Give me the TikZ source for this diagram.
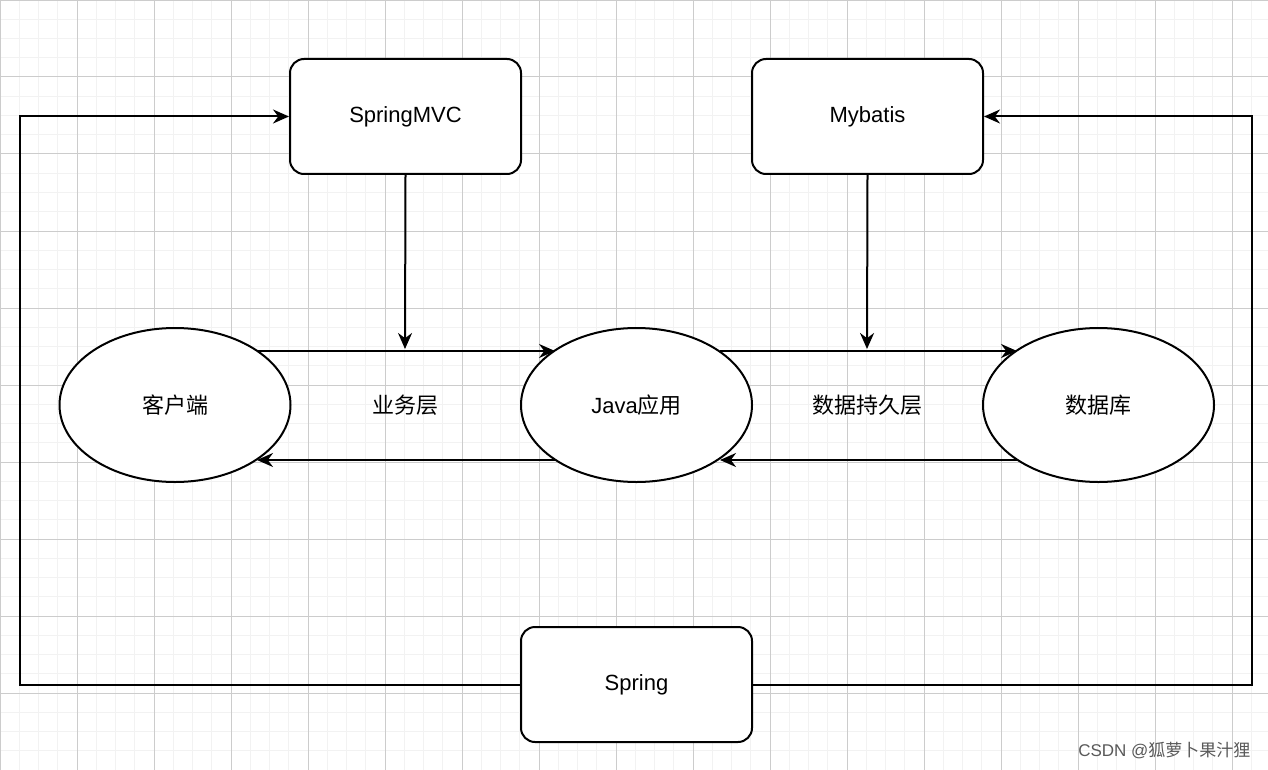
\documentclass[tikz,border=0pt]{standalone}
\usepackage{fontspec}
\setmainfont{Liberation Sans}
\newfontfamily\cjk{Noto Sans CJK SC}
\usetikzlibrary{shapes.geometric,arrows.meta}
\begin{document}
\begin{tikzpicture}[x=1pt,y=-1pt,
  box/.style={draw,line width=2pt,rounded corners=14pt,minimum width=231pt,minimum height=115pt,fill=white,font=\fontsize{22}{26}\selectfont},
  ell/.style={draw,line width=2pt,ellipse,minimum width=231pt,minimum height=154pt,fill=white,font=\fontsize{22}{26}\selectfont},
  arr/.style={line width=2pt,-{Stealth[length=16pt,width=14pt]}},
  lbl/.style={font=\fontsize{22}{26}\selectfont}]
\useasboundingbox (0,0) rectangle (1268,770);
\fill[white] (0,0) rectangle (1268,770);
\draw[black!5,line width=1pt,step=19.25pt] (0,0) grid (1268,770);
\draw[black!20,line width=1pt,step=77pt] (0,0) grid (1268,770);
\node[box] (mvc) at (405.5,116.5) {SpringMVC};
\node[box] (myb) at (867.5,116.5) {Mybatis};
\node[box] (spr) at (636.5,684.5) {Spring};
\node[ell] (cli) at (175,405) {\cjk 客户端};
\node[ell] (java) at (636.5,405) {Java\cjk 应用};
\node[ell] (db) at (1098.5,405) {\cjk 数据库};
\node[lbl] (l1) at (405,405) {\cjk 业务层};
\node[lbl] (l2) at (867,405) {\cjk 数据持久层};
\coordinate (m1) at (405,349);
\coordinate (m2) at (867,349);
\draw[arr] (mvc.south) -- (m1);
\draw[arr] (myb.south) -- (m2);
\draw[arr] (257,351) -- (555,351);
\draw[arr] (555,460) -- (257,460);
\draw[arr] (720,351) -- (1017,351);
\draw[arr] (1017,460) -- (720,460);
\draw[arr] (spr.west) -- (20,684.5) -- (20,116.5) -- (mvc.west);
\draw[arr] (spr.east) -- (1252,684.5) -- (1252,116.5) -- (myb.east);
\node[anchor=east,text=black!65,font=\fontsize{17}{20}\selectfont] (wm) at (1254,751) {CSDN @\cjk 狐萝卜果汁狸};
\end{tikzpicture}
\end{document}
